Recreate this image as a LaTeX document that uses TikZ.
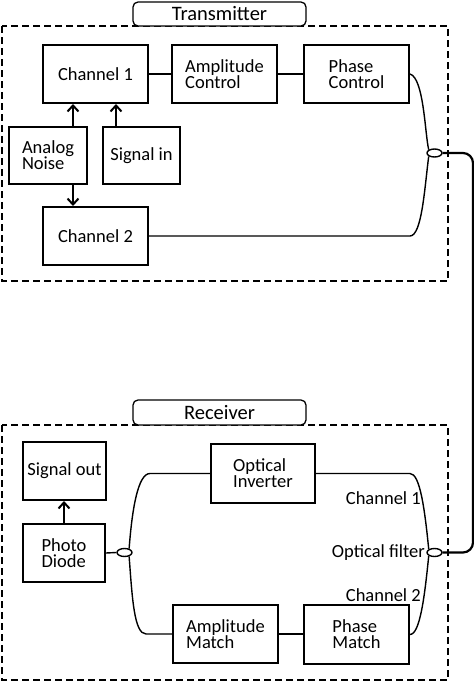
\documentclass[tikz,border=0pt]{standalone}
\usepackage{fontspec}
\setmainfont{Carlito}
\usetikzlibrary{arrows.meta}
\usetikzlibrary{shapes.geometric}

\begin{document}
\begin{tikzpicture}[%
  >={Straight Barb[length=6,width=11]},
  x=1pt, y=-1pt,
  blk/.style={draw, line width=2, minimum width=105, minimum height=58,
    align=left, inner sep=2, font=\fontsize{18.5}{16}\selectfont},
  ttl/.style={draw, fill=white, line width=1.3, rounded corners=5,
    minimum width=173, minimum height=24, inner sep=0,
    font=\fontsize{20.5}{24}\selectfont},
  grp/.style={draw, line width=1.6, dash pattern=on 7 off 4},
  cpl/.style={draw, ellipse, line width=1.4, minimum width=15,
    minimum height=8, inner sep=0},
  lnk/.style={line width=1.4},
  arr/.style={->, line width=2},
  txt/.style={anchor=east, inner sep=0, font=\fontsize{18.5}{18}\selectfont},
]

  \useasboundingbox (0,0) rectangle (474,681);

  % transmitter
  \draw[grp] (2,26) rectangle (448,281);
  \node[ttl] (tx) at (219.5,14) {Transmitter};

  \node[blk] (ch1) at (95.5,74) {Channel 1};
  \node[blk] (amp) at (224.5,74) {Amplitude\\Control};
  \node[blk] (phc) at (356.5,74) {Phase\\Control};
  \node[blk, minimum width=78, minimum height=57] (noise) at (48,155.5) {Analog\\Noise};
  \node[blk, minimum width=77, minimum height=57] (sin) at (141.5,155.5) {Signal in};
  \node[blk] (ch2) at (95.5,236) {Channel 2};
  \node[cpl] (tc) at (434.5,153) {};

  \draw[arr] ([xshift=-15]noise.north east) -- ([xshift=-15]noise.north east |- ch1.south);
  \draw[arr] ([xshift=14]sin.north west) -- ([xshift=14]sin.north west |- ch1.south);
  \draw[arr] ([xshift=-15]noise.south east) -- ([xshift=-15]noise.south east |- ch2.north);

  \draw[lnk] (ch1) -- (amp);
  \draw[lnk] (amp) -- (phc);
  \draw[lnk] (phc.east) .. controls (424,78) and (425,135) .. (tc.150);
  \draw[lnk] (ch2.east) -- (ch2.east -| phc.east) .. controls +(12,0) and +(-4,30) .. (tc.210);

  % receiver
  \draw[grp] (2,425) rectangle (448,680);
  \node[ttl, minimum height=25] (rx) at (219.5,412.5) {Receiver};

  \node[blk, minimum width=83] (sout) at (64.5,471) {Signal out};
  \node[blk, minimum width=82] (pd) at (64,553) {Photo\\Diode};
  \node[cpl] (lc) at (124.5,552.5) {};
  \node[blk, minimum width=104, minimum height=59] (inv) at (263,473.5) {Optical\\Inverter};
  \node[blk] (ampm) at (225.5,634) {Amplitude\\Match};
  \node[blk, minimum height=59] (phm) at (356.5,634.5) {Phase\\Match};
  \node[cpl] (rc) at (434.5,552.5) {};

  \node[txt] (lch1) at (421,498) {Channel 1};
  \node[txt] (lof) at (425,552.5) {Optical filter};
  \node[txt] (lch2) at (421,595) {Channel 2};

  \draw[arr] (pd.north) -- (pd.north |- sout.south);
  \draw[lnk] (pd.east) -- (lc.west);
  \draw[lnk] (lc.40) .. controls +(3,-40) and +(-12,0) .. ([xshift=-60]inv.west) -- (inv.west);
  \draw[lnk] (lc.320) .. controls +(3,40) and +(-12,0) .. ([xshift=-26]ampm.west) -- (ampm.west);
  \draw[lnk] (ampm.east) -- (ampm.east -| phm.west);
  \draw[lnk] (inv.east) -- (inv.east -| phm.east) .. controls +(10,0) and +(-4,-40) .. (rc.150);
  \draw[lnk] (phm.east) .. controls +(10,0) and +(-4,40) .. (rc.210);

  % fibre link
  \draw[line width=2.2, rounded corners=10] (tc.east) -- (473,153) -- (473,552.5) -- (rc.east);

\end{tikzpicture}
\end{document}
